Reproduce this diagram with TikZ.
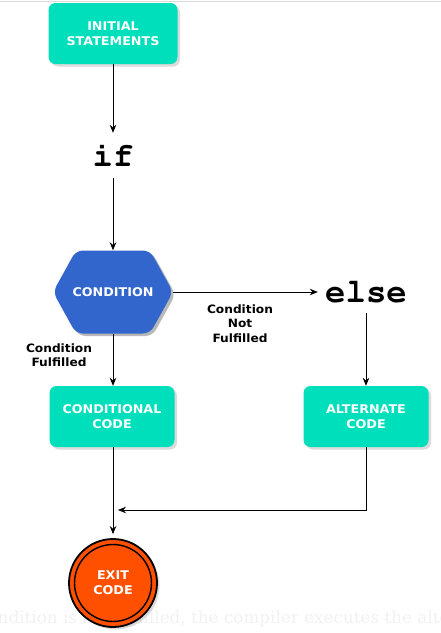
\documentclass[tikz,border=0pt]{standalone}
\usepackage[T1]{fontenc}
\usepackage{fontspec}
\newfontfamily\dv{DejaVu Sans}[FakeStretch=1.06]
\newfontfamily\bgserif{DejaVu Serif}
\newcommand\courbf{\fontencoding{T1}\fontfamily{pcr}\fontseries{b}\selectfont}
\usetikzlibrary{arrows.meta,shadows}
\definecolor{tealbox}{RGB}{0,223,188}
\definecolor{bluehex}{RGB}{50,102,204}
\definecolor{exitred}{RGB}{255,80,0}
\tikzset{
  arr/.style={draw=black, line width=0.8, -{Stealth[length=8,width=6.5]}},
  shad/.style={drop shadow={shadow xshift=2.5pt, shadow yshift=-2.5pt, fill=black!28}},
  codebox/.style={rectangle, rounded corners=7, fill=tealbox, minimum width=125, minimum height=61,
    text=white, align=center, inner sep=0, font=\dv\bfseries\fontsize{12}{15}\selectfont, shad},
  kw/.style={inner sep=0, font=\courbf\fontsize{34}{36}\selectfont},
  lbl/.style={inner sep=0, align=center, font=\dv\bfseries\fontsize{11.5}{14.5}\selectfont},
}
\begin{document}
\begin{tikzpicture}[x=1pt,y=-1pt]
\useasboundingbox (0,0) rectangle (441,633);
\fill[white] (0,0) rectangle (441,633);
\draw[black!14, line width=0.9] (0,1.3) -- (441,1.3);
% faint page text
\begin{scope}
\clip (0,598) rectangle (441,633);
\node[anchor=base west, inner sep=0, text=black!5, font=\bgserif\fontsize{16.8}{18}\selectfont] (bgtext) at (-22,623) {condition is not fulfilled, the compiler executes the alternate code};
\end{scope}
% nodes
\node[codebox, minimum width=129] (init) at (113,33.5) {INITIAL\\STATEMENTS};
\node[kw, minimum height=45, minimum width=60] (ifkw) at (113,155.5) {if};
\fill[black!28, rounded corners=7] (55.5,294.5) -- (78.5,253) -- (152.5,253) -- (175.5,294.5) -- (152.5,336) -- (78.5,336) -- cycle;
\fill[bluehex, rounded corners=7] (53,292) -- (76,250.5) -- (150,250.5) -- (173,292) -- (150,333.5) -- (76,333.5) -- cycle;
\node[rectangle, minimum width=120, minimum height=83, inner sep=0, text=white, font=\dv\bfseries\fontsize{12}{15}\selectfont] (cond) at (113,292) {CONDITION};
\node[kw, minimum height=42, minimum width=96] (elsekw) at (366,292) {else};
\node[codebox] (cc) at (112,416.5) {CONDITIONAL\\CODE};
\node[codebox] (alt) at (366,416.5) {ALTERNATE\\CODE};
\node[circle, draw=black, line width=1.8, fill=exitred, minimum size=88, inner sep=0, shad] (exit) at (113,583) {};
\draw[black, line width=1.4] (exit.center) circle[radius=38.5];
\node[lbl, text=white, font=\dv\bfseries\fontsize{12}{15}\selectfont] (exittxt) at (exit.center) {EXIT\\CODE};
\node[lbl] (lnf) at (240,323.5) {Condition\\Not\\Fulfilled};
\node[lbl] (lf) at (59,355) {Condition\\Fulfilled};
\coordinate (join) at (118,510);
% connectors
\draw[arr] (init.south) -- (ifkw.north);
\draw[arr] (ifkw.south) -- (cond.north);
\draw[arr] (cond.east) -- (elsekw.west);
\draw[arr] (elsekw.south) -- (elsekw.south |- alt.north);
\draw[arr] (cond.south) -- (cond.south |- cc.north);
\draw[arr, shorten >=4] (cond.south |- cc.south) -- (exit.north);
\draw[arr] (alt.south) |- (join);
\end{tikzpicture}
\end{document}
